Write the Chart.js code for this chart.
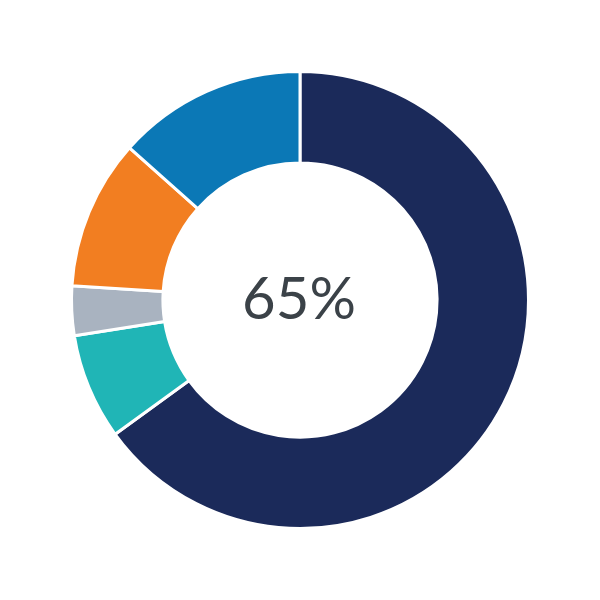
<!DOCTYPE html>
<html>
<head>
<meta charset="utf-8">
<script src="https://cdn.jsdelivr.net/npm/chart.js@4"></script>
<style>
  html, body { margin: 0; padding: 0; background: #ffffff; }
  #wrap { position: relative; width: 600px; height: 600px; }
  #center { position: absolute; left: 0; top: 0; width: 600px; height: 600px; display: flex; align-items: center; justify-content: center; font-family: Lato, "Open Sans", sans-serif; font-size: 58px; color: #3b4248; pointer-events: none; }
  #center span { position: relative; top: -4px; left: -1px; }
</style>
</head>
<body>
<div id="wrap">
  <canvas id="c" width="600" height="600"></canvas>
  <div id="center"><span id="centerText"></span></div>
</div>
<script>
const categories = ["Navy", "Teal", "Gray", "Orange", "Blue"];
const values = [65, 7.5, 3.5, 10.6, 13.4];
const colors = ["#1b2a5a", "#20b5b6", "#a9b3c0", "#f27e21", "#0b78b6"];
const centerLabel = "65%";

document.getElementById('centerText').textContent = centerLabel;

new Chart(document.getElementById('c'), {
  type: 'doughnut',
  data: {
    labels: categories,
    datasets: [{
      data: values,
      backgroundColor: colors,
      borderColor: '#ffffff',
      borderWidth: 3
    }]
  },
  options: {
    responsive: false,
    animation: false,
    cutout: '60%',
    layout: { padding: 70 },
    plugins: { legend: { display: false }, tooltip: { enabled: false } }
  }
});
</script>
</body>
</html>
